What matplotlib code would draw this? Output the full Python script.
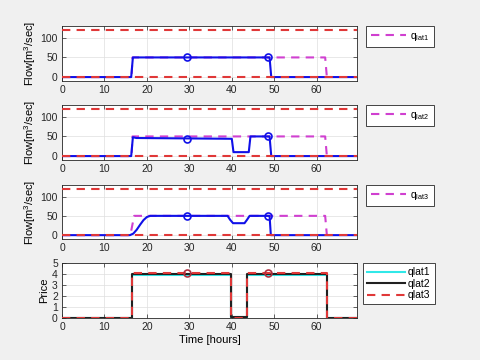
import matplotlib
matplotlib.use('Agg')
import matplotlib.pyplot as plt

plt.rcParams['font.family'] = ['Liberation Sans', 'DejaVu Sans']
plt.rcParams['font.size'] = 7.5

# time axis end
t_end = 69.5

# flows (blue, actual)
t_q1 = [0, 16.3, 16.7, 48.9, 49.3, t_end]
q1 = [0, 0, 50, 50, 0, 0]
t_q2 = [0, 16.3, 16.7, 17.5, 40.0, 40.4, 44.0, 44.4, 48.9, 49.3, t_end]
q2 = [0, 0, 48, 46, 44, 10, 10, 50, 50, 0, 0]
t_q3 = [0, 16.0, 16.8, 17.6, 18.4, 19.2, 20.0, 20.8, 39.0, 39.6, 40.3,
        43.0, 43.6, 44.2, 48.9, 49.2, t_end]
q3 = [0, 0, 4, 14, 27, 39, 47, 50, 50, 40, 31, 31, 40, 50, 50, 0, 0]

# demands (magenta dashed)
t_d1 = [0, 16.4, 16.6, 62.0, 62.4]
d1 = [0, 0, 50, 50, 0]
t_d2 = [0, 16.4, 16.6, 62.0, 62.4]
d2 = [0, 0, 50, 50, 0]
t_d3 = [0, 16.1, 17.0, 62.0, 62.4]
d3 = [0, 0, 50, 50, 0]

# bounds
q_min = 0
q_max = 120

# circle markers
mark_t = [29.5, 48.5]
mark_q1 = [50, 50]
mark_q2 = [44, 50]
mark_q3 = [50, 50]

# prices
t_p = [0, 16.5, 16.5, 39.8, 39.8, 43.6, 43.6, 62.5, 62.5, t_end]
p1 = [0, 0, 3.9, 3.9, 0, 0, 3.9, 3.9, 0, 0]
p2 = [0, 0, 4.0, 4.0, 0.1, 0.1, 4.0, 4.0, 0, 0]
p3 = [0, 0, 4.1, 4.1, 0, 0, 4.1, 4.1, 0, 0]
mark_p = [4.1, 4.1]

W, H = 480, 360
fig = plt.figure(figsize=(4.8, 3.6), dpi=100, facecolor='#f0f0f0')


def box(top, bottom, left=62, right=357):
    return [left / W, 1 - bottom / H, (right - left) / W, (bottom - top) / H]


def style(ax):
    ax.set_xlim(0, t_end)
    ax.set_xticks([0, 10, 20, 30, 40, 50, 60])
    ax.grid(True, color='#dedede', lw=0.5)
    ax.set_axisbelow(True)
    ax.tick_params(direction='in', top=True, right=True, length=3,
                   width=0.5, colors='#262626', labelsize=7.5, pad=3)
    for s in ax.spines.values():
        s.set_linewidth(0.6)
        s.set_color('#262626')


blue = '#1010e8'
mag = '#d040d0'
red = '#e03838'

flows = [(t_q1, q1, t_d1, d1, mark_q1, r'$\mathregular{q_{lat1}}$', (26, 81)),
         (t_q2, q2, t_d2, d2, mark_q2, r'$\mathregular{q_{lat2}}$', (105, 160)),
         (t_q3, q3, t_d3, d3, mark_q3, r'$\mathregular{q_{lat3}}$', (185, 239))]

for tq, q, td, d, mq, lab, (top, bot) in flows:
    ax = fig.add_axes(box(top, bot))
    ax.plot(td, d, '--', color=mag, lw=1.5, dashes=(4, 3), label=lab, zorder=2)
    ax.plot(tq, q, '-', color=blue, lw=1.5, zorder=3)
    ax.plot(mark_t, mq, 'o', mec=blue, mfc='none', ms=5, mew=1.2, zorder=4)
    ax.axhline(q_min, ls='--', color=red, lw=1.5, dashes=(4, 3), zorder=5)
    ax.axhline(q_max, ls='--', color=red, lw=1.5, dashes=(4, 3), zorder=5)
    ax.set_ylim(-10, 130)
    ax.set_yticks([0, 50, 100])
    ax.set_ylabel(r'Flow[m$\mathregular{^3}$/sec]', fontsize=8, labelpad=2)
    style(ax)
    leg = fig.legend(handles=ax.get_lines()[:1], loc='upper left',
                     bbox_to_anchor=(366 / W, 1 - top / H), borderaxespad=0,
                     fancybox=False, edgecolor='#262626', framealpha=1,
                     handlelength=3.4, fontsize=7.5, borderpad=0.45,
                     handletextpad=0.4)
    leg.get_frame().set_linewidth(0.6)

ax = fig.add_axes(box(263, 318))
ax.plot(t_p, p1, '-', color='#30e8e8', lw=1.5, label='qlat1', zorder=2)
ax.plot(t_p, p2, '-', color='#202020', lw=1.5, label='qlat2', zorder=3)
ax.plot(t_p, p3, '--', color=red, lw=1.5, dashes=(4, 3), label='qlat3', zorder=4)
ax.plot(mark_t, mark_p, 'o', mec='#b03040', mfc='none', ms=5, mew=1.2, zorder=5)
ax.set_ylim(0, 5)
ax.set_yticks([0, 1, 2, 3, 4, 5])
ax.set_ylabel('Price', fontsize=8, labelpad=2)
ax.set_xlabel('Time [hours]', fontsize=8, labelpad=2)
style(ax)
leg = fig.legend(handles=ax.get_lines()[:3], loc='upper left',
                 bbox_to_anchor=(363 / W, 1 - 263 / H), borderaxespad=0,
                 fancybox=False, edgecolor='#262626', framealpha=1,
                 handlelength=3.6, fontsize=7.5, labelspacing=0.15,
                 borderpad=0.4, handletextpad=0.3)
leg.get_frame().set_linewidth(0.6)

fig.savefig('out.png', dpi=100, facecolor=fig.get_facecolor())
